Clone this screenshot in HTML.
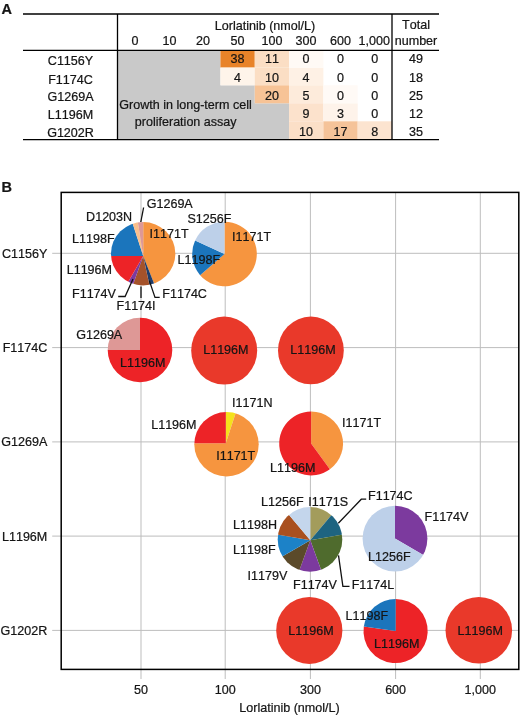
<!DOCTYPE html>
<html><head><meta charset="utf-8"><title>Figure</title>
<style>html,body{margin:0;padding:0;background:#fff}svg{display:block}
text{font-family:"Liberation Sans",Arial,Helvetica,sans-serif;font-size:12.55px;fill:#151515;font-kerning:none;stroke:#151515;stroke-width:0.22px}</style></head>
<body><svg width="520" height="716" viewBox="0 0 520 716">
<rect width="520" height="716" fill="#fff"/>
<text x="1.5" y="13.5" style="font-size:14.5px;font-weight:bold;">A</text>
<rect x="117.50" y="50.20" width="102.94" height="89.00" fill="#c9c9c9"/>
<rect x="186.12" y="85.30" width="68.62" height="53.90" fill="#c9c9c9"/>
<rect x="220.44" y="103.30" width="68.62" height="35.90" fill="#c9c9c9"/>
<rect x="220.44" y="50.20" width="34.31" height="17.40" fill="#e88329"/>
<rect x="254.75" y="50.20" width="34.31" height="17.40" fill="#fbdec4"/>
<rect x="220.44" y="67.60" width="34.31" height="17.70" fill="#fef4ea"/>
<rect x="254.75" y="67.60" width="34.31" height="17.70" fill="#fbdec4"/>
<rect x="289.06" y="67.60" width="34.31" height="17.70" fill="#fef1e5"/>
<rect x="254.75" y="85.30" width="34.31" height="18.00" fill="#f7c396"/>
<rect x="289.06" y="85.30" width="34.31" height="18.00" fill="#fdebdb"/>
<rect x="289.06" y="103.30" width="34.31" height="18.00" fill="#fce2cc"/>
<rect x="323.38" y="103.30" width="34.31" height="18.00" fill="#fef3ea"/>
<rect x="289.06" y="121.30" width="34.31" height="17.90" fill="#fbdfc7"/>
<rect x="323.38" y="121.30" width="34.31" height="17.90" fill="#f5c399"/>
<rect x="357.69" y="121.30" width="34.31" height="17.90" fill="#fce4d0"/>
<rect x="289.06" y="50.20" width="34.31" height="17.40" fill="#fffaf5"/>
<rect x="323.38" y="85.30" width="34.31" height="18.00" fill="#fffaf6"/>
<line x1="23" y1="14" x2="439" y2="14" stroke="#000" stroke-width="1.3"/>
<line x1="23" y1="50.3" x2="439" y2="50.3" stroke="#000" stroke-width="1.3"/>
<line x1="23" y1="139.6" x2="439" y2="139.6" stroke="#000" stroke-width="1.3"/>
<line x1="117.5" y1="14" x2="117.5" y2="139.6" stroke="#000" stroke-width="1.3"/>
<line x1="392" y1="14" x2="392" y2="139.6" stroke="#000" stroke-width="1.3"/>
<text x="265" y="30" text-anchor="middle">Lorlatinib (nmol/L)</text>
<text x="135" y="45.4" text-anchor="middle">0</text>
<text x="169.5" y="45.4" text-anchor="middle">10</text>
<text x="203" y="45.4" text-anchor="middle">20</text>
<text x="237.5" y="45.4" text-anchor="middle">50</text>
<text x="272" y="45.4" text-anchor="middle">100</text>
<text x="306" y="45.4" text-anchor="middle">300</text>
<text x="340.5" y="45.4" text-anchor="middle">600</text>
<text x="374.2" y="45.4" text-anchor="middle">1,000</text>
<text x="416" y="29" text-anchor="middle">Total</text>
<text x="416" y="44.5" text-anchor="middle">number</text>
<text x="70.5" y="65.4" text-anchor="middle">C1156Y</text>
<text x="70.5" y="83.6" text-anchor="middle">F1174C</text>
<text x="70.5" y="101.1" text-anchor="middle">G1269A</text>
<text x="70.5" y="119.4" text-anchor="middle">L1196M</text>
<text x="70.5" y="136.8" text-anchor="middle">G1202R</text>
<text x="237.5" y="63.2" text-anchor="middle">38</text>
<text x="272" y="63.2" text-anchor="middle">11</text>
<text x="306" y="63.2" text-anchor="middle">0</text>
<text x="340.5" y="63.2" text-anchor="middle">0</text>
<text x="374.8" y="63.2" text-anchor="middle">0</text>
<text x="416" y="63.2" text-anchor="middle">49</text>
<text x="237.5" y="81.5" text-anchor="middle">4</text>
<text x="272" y="81.5" text-anchor="middle">10</text>
<text x="306" y="81.5" text-anchor="middle">4</text>
<text x="340.5" y="81.5" text-anchor="middle">0</text>
<text x="374.8" y="81.5" text-anchor="middle">0</text>
<text x="416" y="81.5" text-anchor="middle">18</text>
<text x="272" y="99.7" text-anchor="middle">20</text>
<text x="306" y="99.7" text-anchor="middle">5</text>
<text x="340.5" y="99.7" text-anchor="middle">0</text>
<text x="374.8" y="99.7" text-anchor="middle">0</text>
<text x="416" y="99.7" text-anchor="middle">25</text>
<text x="306" y="117.7" text-anchor="middle">9</text>
<text x="340.5" y="117.7" text-anchor="middle">3</text>
<text x="374.8" y="117.7" text-anchor="middle">0</text>
<text x="416" y="117.7" text-anchor="middle">12</text>
<text x="306" y="135.5" text-anchor="middle">10</text>
<text x="340.5" y="135.5" text-anchor="middle">17</text>
<text x="374.8" y="135.5" text-anchor="middle">8</text>
<text x="416" y="135.5" text-anchor="middle">35</text>
<text x="185.5" y="108.5" text-anchor="middle">Growth in long-term cell</text>
<text x="185.7" y="125.5" text-anchor="middle">proliferation assay</text>
<text x="1.5" y="192" style="font-size:14.5px;font-weight:bold;">B</text>
<line x1="141" y1="192.4" x2="141" y2="679.0" stroke="#bdbdbd" stroke-width="1"/>
<line x1="225.2" y1="192.4" x2="225.2" y2="679.0" stroke="#bdbdbd" stroke-width="1"/>
<line x1="310.4" y1="192.4" x2="310.4" y2="679.0" stroke="#bdbdbd" stroke-width="1"/>
<line x1="395.6" y1="192.4" x2="395.6" y2="679.0" stroke="#bdbdbd" stroke-width="1"/>
<line x1="480.3" y1="192.4" x2="480.3" y2="679.0" stroke="#bdbdbd" stroke-width="1"/>
<line x1="52.2" y1="253.3" x2="518.8" y2="253.3" stroke="#bdbdbd" stroke-width="1"/>
<line x1="52.2" y1="347.6" x2="518.8" y2="347.6" stroke="#bdbdbd" stroke-width="1"/>
<line x1="52.2" y1="441.9" x2="518.8" y2="441.9" stroke="#bdbdbd" stroke-width="1"/>
<line x1="52.2" y1="536.1" x2="518.8" y2="536.1" stroke="#bdbdbd" stroke-width="1"/>
<line x1="52.2" y1="630.4" x2="518.8" y2="630.4" stroke="#bdbdbd" stroke-width="1"/>
<rect x="61.2" y="192.4" width="457.59999999999997" height="477.0" fill="none" stroke="#000" stroke-width="1.5"/>
<text x="47.3" y="257.8" text-anchor="end">C1156Y</text>
<text x="47.3" y="352.1" text-anchor="end">F1174C</text>
<text x="47.3" y="446.4" text-anchor="end">G1269A</text>
<text x="47.3" y="540.6" text-anchor="end">L1196M</text>
<text x="47.3" y="634.9" text-anchor="end">G1202R</text>
<text x="141" y="694" text-anchor="middle">50</text>
<text x="225.2" y="694" text-anchor="middle">100</text>
<text x="310.4" y="694" text-anchor="middle">300</text>
<text x="395.6" y="694" text-anchor="middle">600</text>
<text x="480.3" y="694" text-anchor="middle">1,000</text>
<text x="289.5" y="712" text-anchor="middle">Lorlatinib (nmol/L)</text>
<clipPath id="c1"><ellipse cx="143.15" cy="253.7" rx="32.2" ry="31.7"/></clipPath><g clip-path="url(#c1)">
<path d="M143.2 255.9L143.20 175.40A80.5 80.5 0 0 1 172.70 330.80Z" fill="#f6953f"/>
<path d="M143.2 255.9L172.70 330.80A80.5 80.5 0 0 1 159.94 334.64Z" fill="#1f3d6b"/>
<path d="M143.2 255.9L159.94 334.64A80.5 80.5 0 0 1 116.33 331.78Z" fill="#a5522a"/>
<path d="M143.2 255.9L116.33 331.78A80.5 80.5 0 0 1 102.95 325.62Z" fill="#7c3a9e"/>
<path d="M143.2 255.9L102.95 325.62A80.5 80.5 0 0 1 62.70 255.90Z" fill="#ed2327"/>
<path d="M143.2 255.9L62.70 255.90A80.5 80.5 0 0 1 118.32 179.34Z" fill="#1b75bc"/>
<path d="M143.2 255.9L118.32 179.34A80.5 80.5 0 0 1 130.61 176.39Z" fill="#f9bf8c"/>
<path d="M143.2 255.9L130.61 176.39A80.5 80.5 0 0 1 143.20 175.40Z" fill="#de9896"/>
</g>
<path d="M224.5 254L224.50 221.70A32.3 32.3 0 1 1 200.09 275.15Z" fill="#f6953f"/>
<path d="M224.5 254L200.09 275.15A32.3 32.3 0 0 1 195.11 240.61Z" fill="#1b75bc"/>
<path d="M224.5 254L195.11 240.61A32.3 32.3 0 0 1 224.50 221.70Z" fill="#bdd0e9"/>
<path d="M140 350L140.00 317.70A32.3 32.3 0 1 1 107.70 350.00Z" fill="#ed2327"/>
<path d="M140 350L107.70 350.00A32.3 32.3 0 0 1 140.00 317.70Z" fill="#de9896"/>
<ellipse cx="224.2" cy="350.6" rx="33" ry="34" fill="#e9392a"/>
<ellipse cx="310.9" cy="350.4" rx="32.9" ry="33.8" fill="#e9392a"/>
<clipPath id="c2"><ellipse cx="226.5" cy="444.3" rx="32.2" ry="32.2"/></clipPath><g clip-path="url(#c2)">
<path d="M225.8 443.3L225.80 362.80A80.5 80.5 0 0 1 250.68 366.74Z" fill="#f5e11c"/>
<path d="M225.8 443.3L250.68 366.74A80.5 80.5 0 1 1 145.30 443.30Z" fill="#f6953f"/>
<path d="M225.8 443.3L145.30 443.30A80.5 80.5 0 0 1 225.80 362.80Z" fill="#ed2327"/>
</g>
<path d="M311.1 443.5L311.10 411.60A31.9 31.9 0 0 1 329.85 469.31Z" fill="#f6953f"/>
<path d="M311.1 443.5L329.85 469.31A31.9 31.9 0 1 1 311.10 411.60Z" fill="#ed2327"/>
<clipPath id="c3"><ellipse cx="310" cy="539.4" rx="32.3" ry="32.3"/></clipPath><g clip-path="url(#c3)">
<path d="M310.3 540.3L310.30 459.55A80.75 80.75 0 0 1 362.21 478.44Z" fill="#a39c5c"/>
<path d="M310.3 540.3L362.21 478.44A80.75 80.75 0 0 1 389.82 526.28Z" fill="#1e6480"/>
<path d="M310.3 540.3L389.82 526.28A80.75 80.75 0 0 1 337.92 616.18Z" fill="#4f6b2d"/>
<path d="M310.3 540.3L337.92 616.18A80.75 80.75 0 0 1 282.68 616.18Z" fill="#7c3a9e"/>
<path d="M310.3 540.3L282.68 616.18A80.75 80.75 0 0 1 240.37 580.67Z" fill="#5b4a2a"/>
<path d="M310.3 540.3L240.37 580.67A80.75 80.75 0 0 1 230.78 526.28Z" fill="#1c82c8"/>
<path d="M310.3 540.3L230.78 526.28A80.75 80.75 0 0 1 258.39 478.44Z" fill="#a9501f"/>
<path d="M310.3 540.3L258.39 478.44A80.75 80.75 0 0 1 310.30 459.55Z" fill="#c4d6ec"/>
</g>
<clipPath id="c4"><ellipse cx="395" cy="538.6" rx="32.4" ry="32.9"/></clipPath><g clip-path="url(#c4)">
<path d="M395 538.6L395.00 457.60A81.0 81.0 0 0 1 465.15 579.10Z" fill="#7c3a9e"/>
<path d="M395 538.6L465.15 579.10A81.0 81.0 0 1 1 395.00 457.60Z" fill="#bdd0e9"/>
</g>
<ellipse cx="309.3" cy="630.4" rx="33.1" ry="33.5" fill="#e9392a"/>
<path d="M395.6 631L395.60 598.90A32.1 32.1 0 1 1 363.81 626.53Z" fill="#ed2327"/>
<path d="M395.6 631L363.81 626.53A32.1 32.1 0 0 1 395.60 598.90Z" fill="#1b75bc"/>
<ellipse cx="478.8" cy="630.3" rx="33.3" ry="33.3" fill="#e9392a"/>
<polyline points="143.6,207.5 140.8,222" fill="none" stroke="#111" stroke-width="1.3"/>
<polyline points="118.2,296.5 125.1,296.5 133,279" fill="none" stroke="#111" stroke-width="1.3"/>
<polyline points="141,286.5 141,298" fill="none" stroke="#111" stroke-width="1.3"/>
<polyline points="149.3,280.6 155,297.4 159.7,297.4" fill="none" stroke="#111" stroke-width="1.3"/>
<polyline points="338.3,523.3 361.3,499.2 366.2,499.2" fill="none" stroke="#111" stroke-width="1.3"/>
<polyline points="338.5,555.4 342.9,586.4 349.5,586.4" fill="none" stroke="#111" stroke-width="1.3"/>
<text x="146.7" y="208">G1269A</text>
<text x="86.1" y="221">D1203N</text>
<text x="72.1" y="243">L1198F</text>
<text x="149.6" y="238">I1171T</text>
<text x="66.7" y="274">L1196M</text>
<text x="72" y="297.5">F1174V</text>
<text x="116.5" y="310">F1174I</text>
<text x="162.3" y="297.5">F1174C</text>
<text x="187.5" y="222.7">S1256F</text>
<text x="177.5" y="263.5">L1198F</text>
<text x="232" y="240.5">I1171T</text>
<text x="76.2" y="338.5">G1269A</text>
<text x="120" y="367">L1196M</text>
<text x="203.2" y="354.2">L1196M</text>
<text x="290.3" y="354.2">L1196M</text>
<text x="151.2" y="428.7">L1196M</text>
<text x="232" y="407">I1171N</text>
<text x="216.2" y="459.5">I1171T</text>
<text x="342" y="427">I1171T</text>
<text x="270" y="471.5">L1196M</text>
<text x="261" y="506.2">L1256F</text>
<text x="308.3" y="506.2">I1171S</text>
<text x="368" y="500.2">F1174C</text>
<text x="233" y="528.5">L1198H</text>
<text x="233" y="553.6">L1198F</text>
<text x="247.5" y="580">I1179V</text>
<text x="293" y="589">F1174V</text>
<text x="351.7" y="588.6">F1174L</text>
<text x="424.5" y="521">F1174V</text>
<text x="368" y="561">L1256F</text>
<text x="288.3" y="635.2">L1196M</text>
<text x="345.5" y="620">L1198F</text>
<text x="374" y="648.2">L1196M</text>
<text x="457.6" y="635.3">L1196M</text>
</svg></body></html>
